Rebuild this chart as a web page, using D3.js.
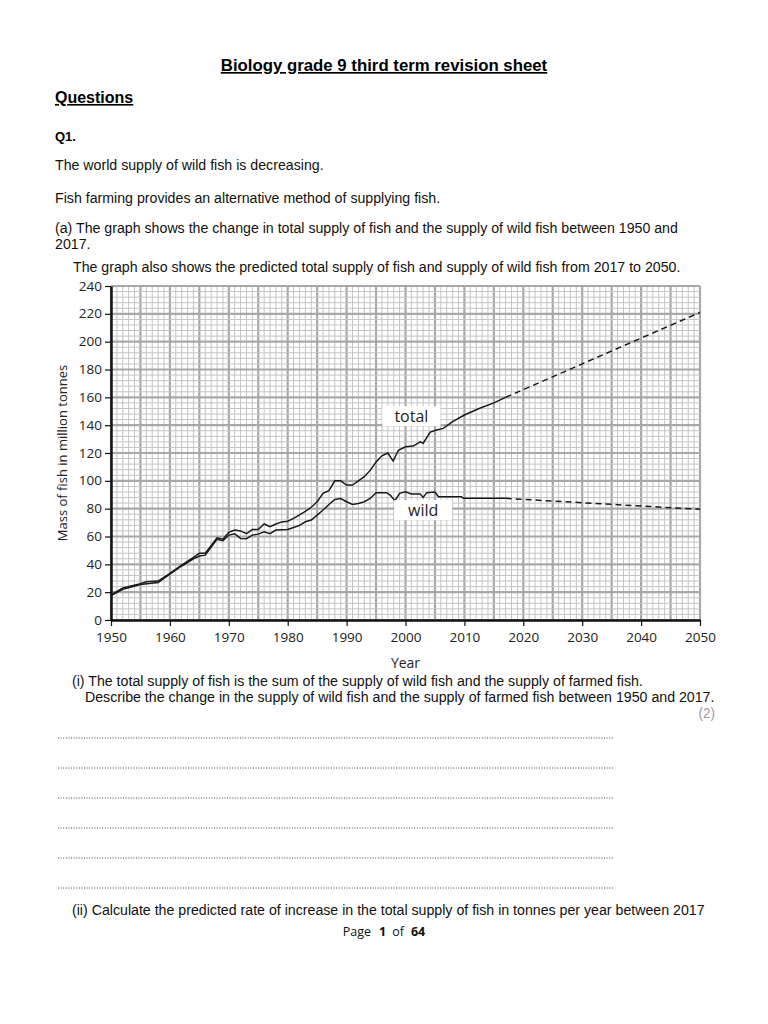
<!DOCTYPE html>
<html>
<head>
<meta charset="utf-8">
<script src="https://cdn.jsdelivr.net/npm/d3@7"></script>
<style>
  body { margin: 0; background: #fff; }
  .narrow { font-family: "Liberation Sans Narrow", "Liberation Sans", Arial, sans-serif; }
  .axisText { font-family: "Open Sans", "DejaVu Sans", sans-serif; }
</style>
</head>
<body>
<div id="page"></div>
<script>
// data (million tonnes)
var totalYears = [1950, 1952, 1955, 1956, 1958, 1960, 1962, 1964, 1965, 1966, 1968, 1969, 1970, 1971, 1972, 1973, 1974, 1975, 1976, 1977, 1978, 1979, 1980, 1981, 1982, 1983, 1984, 1985, 1986, 1987, 1988, 1989, 1990, 1991, 1992, 1993, 1994, 1995, 1996, 1997, 1997.9, 1998.8, 2000, 2001.3, 2002.5, 2003, 2004.2, 2005.3, 2006.4, 2008, 2010, 2012.5, 2015, 2017];
var totalValues = [18, 23, 26, 27.5, 28, 33.5, 39.5, 45, 48, 48, 59, 58, 63, 64.6, 64, 62, 65, 65, 69, 67, 69, 70.5, 71, 73, 75.5, 78, 81, 85, 91, 93, 100, 100, 97, 97, 100, 103, 107.5, 113.5, 118, 120, 114.2, 122, 124.5, 125, 128, 127, 135, 136.5, 137.7, 142.5, 147.3, 152, 156, 160];
var wildYears = [1950, 1952, 1955, 1958, 1960, 1962, 1964, 1965, 1966, 1968, 1969, 1970, 1971, 1972, 1973, 1974, 1975, 1976, 1977, 1978, 1980, 1981, 1982, 1983, 1984, 1985, 1986, 1987, 1988, 1989, 1990, 1991, 1992, 1993, 1994, 1995, 1996.8, 1997.4, 1998.2, 1999, 2000, 2001, 2002.5, 2003, 2003.6, 2005, 2005.6, 2009.5, 2009.8, 2017];
var wildValues = [17.5, 22, 25.5, 27, 33, 38.8, 44, 46, 46.6, 58, 57, 61, 62, 58.6, 58.4, 61, 61.7, 63.4, 62, 64.6, 65, 66.5, 68, 70.6, 71.8, 75.4, 79, 83, 86.6, 87.3, 85, 83, 83.7, 85, 87.3, 91.4, 91.5, 89.8, 85.7, 91, 92.2, 90.5, 90.5, 88.1, 91.5, 92, 88.6, 88.6, 87.4, 87.4];
var predYears = [2017, 2050];
var predTotal = [160, 221];
var predWild = [87.4, 79.5];
var xTicks = [1950, 1960, 1970, 1980, 1990, 2000, 2010, 2020, 2030, 2040, 2050];
var yTicks = [0, 20, 40, 60, 80, 100, 120, 140, 160, 180, 200, 220, 240];

var svgWidth = 768;
var svgHeight = 1024;

var chartMargins = { top: 286, left: 111 };
var chartWidth = 589;
var chartHeight = 334;

var svg = d3.select("#page")
  .append("svg")
  .attr("width", svgWidth)
  .attr("height", svgHeight);

svg.append("rect").attr("width", svgWidth).attr("height", svgHeight).attr("fill", "#fff");

// ---- page text ----
svg.append("text")
  .attr("x", 384).attr("y", 71)
  .attr("text-anchor", "middle")
  .attr("font-family", "Liberation Sans, Arial, sans-serif")
  .attr("font-weight", "bold")
  .attr("font-size", 16.8)
  .attr("text-decoration", "underline")
  .text("Biology grade 9 third term revision sheet");

svg.append("text")
  .attr("x", 55).attr("y", 103)
  .attr("font-family", "Liberation Sans, Arial, sans-serif")
  .attr("font-weight", "bold")
  .attr("font-size", 16)
  .attr("text-decoration", "underline")
  .text("Questions");

svg.append("text")
  .attr("x", 55).attr("y", 141)
  .attr("font-family", "Liberation Sans, Arial, sans-serif")
  .attr("font-weight", "bold")
  .attr("font-size", 13)
  .text("Q1.");

// body text is narrow in the original, so squeeze it horizontally
var bodyLines = [
  [55, 170, "The world supply of wild fish is decreasing."],
  [55, 203, "Fish farming provides an alternative method of supplying fish."],
  [55, 233, "(a)  The graph shows the change in total supply of fish and the supply of wild fish between 1950 and"],
  [55, 249, "2017."],
  [73, 272, "The graph also shows the predicted total supply of fish and supply of wild fish from 2017 to 2050."],
  [72, 686, "(i)  The total supply of fish is the sum of the supply of wild fish and the supply of farmed fish."],
  [85, 702, "Describe the change in the supply of wild fish and the supply of farmed fish between 1950 and 2017."],
  [72, 915, "(ii)  Calculate the predicted rate of increase in the total supply of fish in tonnes per year between 2017"]
];
svg.selectAll("text.body")
  .data(bodyLines)
  .enter()
  .append("text")
  .attr("class", "body narrow")
  .attr("transform", d => `translate(${d[0]}, ${d[1]}) scale(0.915, 1)`)
  .attr("font-size", 15.5)
  .attr("fill", "#111")
  .text(d => d[2]);

svg.append("text")
  .attr("class", "narrow")
  .attr("transform", "translate(715, 718) scale(0.9, 1)")
  .attr("text-anchor", "end")
  .attr("font-size", 15)
  .attr("fill", "#999")
  .text("(2)");

// answer lines
var answerRows = [738, 768, 798, 828, 858, 888];
svg.selectAll("line.answer")
  .data(answerRows)
  .enter()
  .append("line")
  .attr("x1", 58).attr("x2", 614)
  .attr("y1", d => d).attr("y2", d => d)
  .attr("stroke", "#444")
  .attr("stroke-width", 1)
  .attr("stroke-dasharray", "1,1.6");

var pageText = svg.append("text")
  .attr("x", 384).attr("y", 936)
  .attr("text-anchor", "middle")
  .attr("font-family", "Open Sans, sans-serif")
  .attr("font-size", 12.5)
  .attr("fill", "#111");
pageText.append("tspan").text("Page");
pageText.append("tspan").attr("dx", 8).attr("font-weight", "bold").text("1");
pageText.append("tspan").attr("dx", 6).text("of");
pageText.append("tspan").attr("dx", 7).attr("font-weight", "bold").text("64");

// ---- chart ----
var chartGroup = svg.append("g")
  .attr("transform", `translate(${chartMargins.left}, ${chartMargins.top})`);

var xLinearScale = d3.scaleLinear().domain([1950, 2050]).range([0, chartWidth]);
var yLinearScale = d3.scaleLinear().domain([0, 240]).range([chartHeight, 0]);

// graph paper grid
var gridX = d3.range(1950, 2051, 1);
var gridY = d3.range(0, 241, 4);

chartGroup.selectAll("line.gx")
  .data(gridX)
  .enter()
  .append("line")
  .attr("x1", d => xLinearScale(d)).attr("x2", d => xLinearScale(d))
  .attr("y1", 0).attr("y2", chartHeight)
  .attr("stroke", d => d % 5 === 0 ? "#a8a8a8" : "#c4c4c4")
  .attr("stroke-width", d => d % 5 === 0 ? 2.2 : 1);

chartGroup.selectAll("line.gy")
  .data(gridY)
  .enter()
  .append("line")
  .attr("y1", d => yLinearScale(d)).attr("y2", d => yLinearScale(d))
  .attr("x1", 0).attr("x2", chartWidth)
  .attr("stroke", d => d % 20 === 0 ? "#a8a8a8" : "#c4c4c4")
  .attr("stroke-width", d => d % 20 === 0 ? 2.2 : 1);

// axes
var bottomAxis = d3.axisBottom(xLinearScale).tickValues(xTicks).tickFormat(d3.format("d")).tickSize(6).tickSizeOuter(0);
var leftAxis = d3.axisLeft(yLinearScale).tickValues(yTicks).tickSize(6).tickSizeOuter(0);

var xAxisG = chartGroup.append("g")
  .attr("transform", `translate(0, ${chartHeight})`)
  .call(bottomAxis);
var yAxisG = chartGroup.append("g")
  .call(leftAxis);

[xAxisG, yAxisG].forEach(function(g) {
  g.select(".domain").attr("stroke", "#111").attr("stroke-width", 2.5);
  g.selectAll(".tick line").attr("stroke", "#111").attr("stroke-width", 1.2);
  g.selectAll(".tick text")
    .attr("class", "axisText")
    .attr("font-size", 13.5)
    .attr("fill", "#222");
});
xAxisG.selectAll(".tick text").attr("y", 9).attr("dy", "0.95em");
yAxisG.selectAll(".tick text").attr("x", -9).attr("dy", "0.3em");

// lines
var line = d3.line()
  .x(d => xLinearScale(d[0]))
  .y(d => yLinearScale(d[1]));

chartGroup.append("path")
  .datum(d3.zip(totalYears, totalValues))
  .attr("d", line)
  .attr("fill", "none")
  .attr("stroke", "#1a1a1a")
  .attr("stroke-width", 1.5);

chartGroup.append("path")
  .datum(d3.zip(wildYears, wildValues))
  .attr("d", line)
  .attr("fill", "none")
  .attr("stroke", "#1a1a1a")
  .attr("stroke-width", 1.5);

chartGroup.append("path")
  .datum(d3.zip(predYears, predTotal))
  .attr("d", line)
  .attr("fill", "none")
  .attr("stroke", "#1a1a1a")
  .attr("stroke-width", 1.5)
  .attr("stroke-dasharray", "6,4");

chartGroup.append("path")
  .datum(d3.zip(predYears, predWild))
  .attr("d", line)
  .attr("fill", "none")
  .attr("stroke", "#1a1a1a")
  .attr("stroke-width", 1.5)
  .attr("stroke-dasharray", "6,4");

// line labels
var lineLabels = [
  { text: "total", year: 2001, value: 146.5 },
  { text: "wild", year: 2003, value: 79 }
];
lineLabels.forEach(function(l) {
  var cx = xLinearScale(l.year);
  var cy = yLinearScale(l.value);
  chartGroup.append("rect")
    .attr("x", cx - 29).attr("y", cy - 10)
    .attr("width", 58).attr("height", 20)
    .attr("fill", "#fff");
  chartGroup.append("text")
    .attr("class", "axisText")
    .attr("x", cx).attr("y", cy)
    .attr("dy", "0.35em")
    .attr("text-anchor", "middle")
    .attr("font-size", 16)
    .attr("fill", "#222")
    .text(l.text);
});

// axis labels
chartGroup.append("text")
  .attr("transform", "rotate(-90)")
  .attr("x", -167)
  .attr("y", -44)
  .attr("text-anchor", "middle")
  .attr("class", "axisText")
  .attr("font-size", 13)
  .attr("fill", "#222")
  .text("Mass of fish in million tonnes");

chartGroup.append("text")
  .attr("x", xLinearScale(2000))
  .attr("y", chartHeight + 48)
  .attr("text-anchor", "middle")
  .attr("class", "axisText")
  .attr("font-size", 14)
  .attr("fill", "#222")
  .text("Year");
</script>
</body>
</html>
